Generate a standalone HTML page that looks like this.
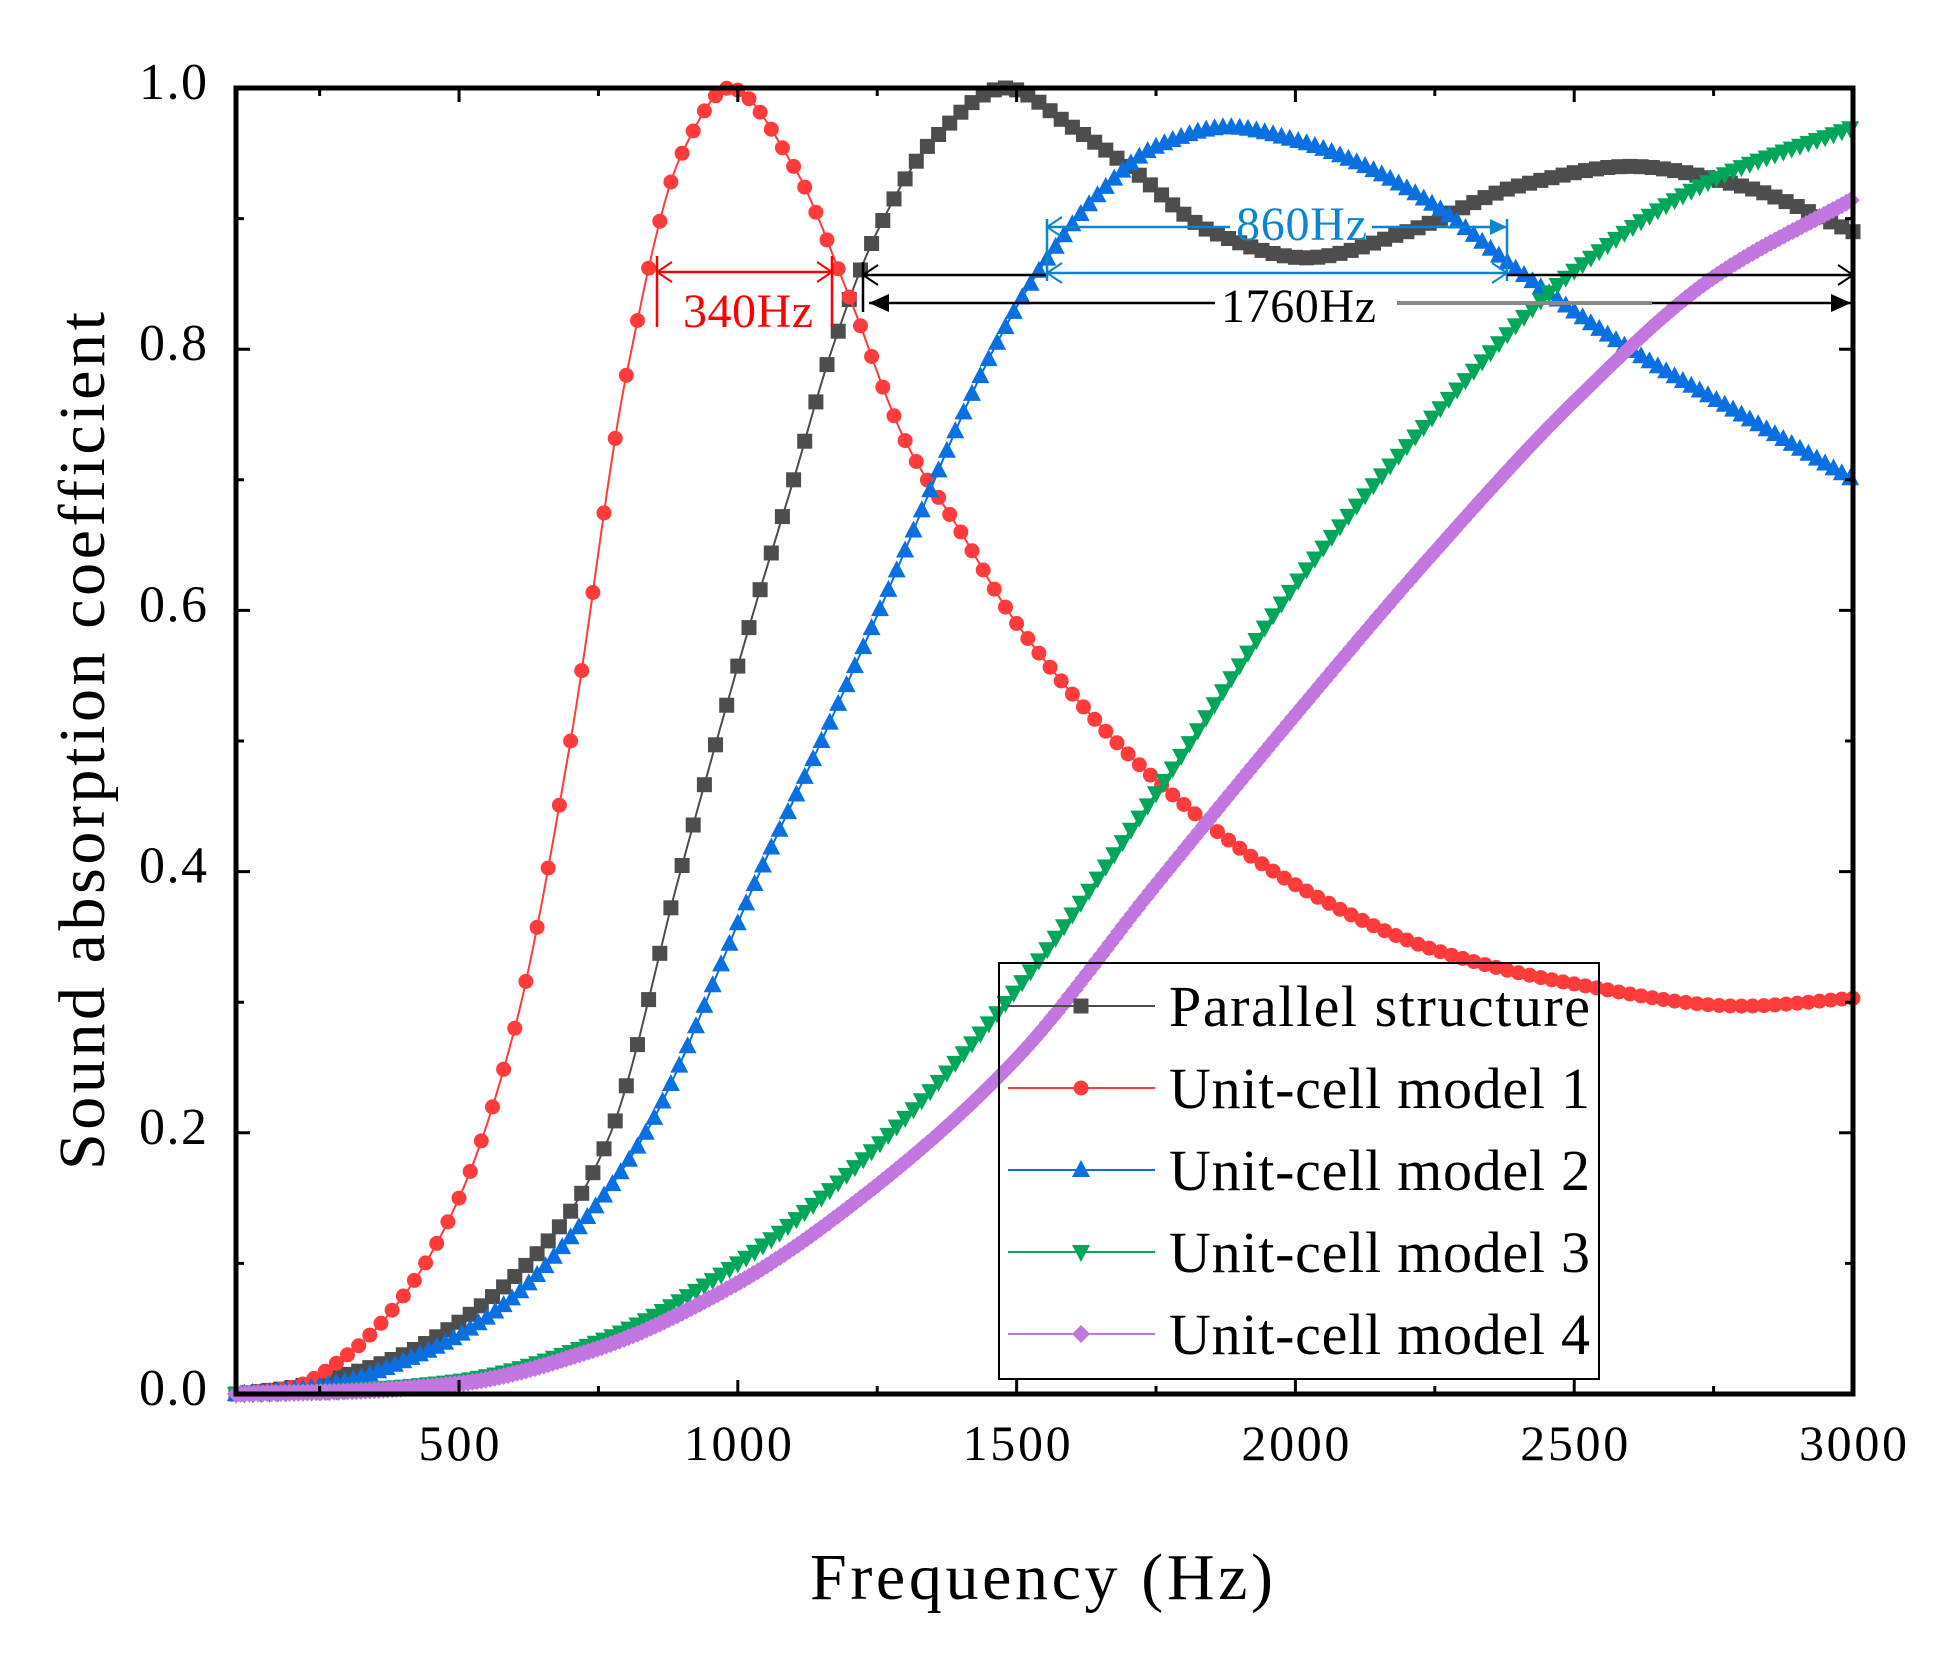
<!DOCTYPE html>
<html><head><meta charset="utf-8"><style>
html,body{margin:0;padding:0;background:#fff;}
svg{display:block;font-family:"Liberation Serif",serif;}
</style></head><body>
<svg id="s" width="1950" height="1655" xmlns="http://www.w3.org/2000/svg"></svg>
<script>
const S=document.getElementById('s');
const L0=236,R0=1853,T0=88,B0=1394;
const X=f=>L0+(f-100)*(R0-L0)/2900, Y=a=>B0-(B0-T0)*a;
function interp(pts){
 const n=pts.length,xs=pts.map(p=>p[0]),ys=pts.map(p=>p[1]);
 const d=[],m=[];
 for(let i=0;i<n-1;i++)d.push((ys[i+1]-ys[i])/(xs[i+1]-xs[i]));
 m[0]=d[0];m[n-1]=d[n-2];
 for(let i=1;i<n-1;i++){if(d[i-1]*d[i]<=0)m[i]=0;else{const w1=2*(xs[i+1]-xs[i])+(xs[i]-xs[i-1]),w2=(xs[i+1]-xs[i])+2*(xs[i]-xs[i-1]);m[i]=(w1+w2)/(w1/d[i-1]+w2/d[i]);}}
 return f=>{let i=0;while(i<n-2&&f>xs[i+1])i++;const h=xs[i+1]-xs[i],t=(f-xs[i])/h,t2=t*t,t3=t2*t;
  return (2*t3-3*t2+1)*ys[i]+(t3-2*t2+t)*h*m[i]+(-2*t3+3*t2)*ys[i+1]+(t3-t2)*h*m[i+1];};
}
const series=[
 {c:'#4d4d4d',m:'sq',st:20,p:[[100,0],[200,.005],[300,.015],[400,.03],[500,.055],[600,.09],[700,.14],[772,.2],[897,.4],[1029,.6],[1100,.7],[1169,.8],[1250,.89],[1350,.96],[1480,1],[1600,.97],[1700,.94],[1850,.89],[2020,.87],[2200,.89],[2400,.925],[2600,.94],[2800,.925],[3000,.89]]},
 {c:'#ff3b3b',m:'ci',st:20,p:[[100,0],[200,.005],[300,.03],[400,.075],[500,.15],[600,.28],[700,.5],[800,.78],[900,.95],[985,1],[1100,.94],[1200,.84],[1300,.73],[1400,.66],[1500,.59],[1750,.47],[2000,.39],[2250,.34],[2500,.314],[2800,.297],[3000,.303]]},
 {c:'#0a6fe0',m:'tu',st:15,p:[[100,0],[200,.003],[300,.01],[400,.025],[500,.045],[600,.075],[700,.12],[835,.2],[1040,.4],[1150,.5],[1254,.6],[1459,.8],[1540,.86],[1650,.92],[1750,.955],[1880,.97],[2000,.96],[2100,.945],[2250,.91],[2400,.86],[2600,.8],[2800,.75],[3000,.7]]},
 {c:'#00a65a',m:'td',st:15,p:[[100,0],[300,.003],[500,.01],[750,.04],[1000,.1],[1250,.19],[1500,.31],[1750,.46],[2000,.62],[2250,.75],[2500,.86],[2750,.93],[3000,.97]]},
 {c:'#c176e0',m:'di',st:8,p:[[100,0],[300,.002],[500,.008],[750,.035],[1000,.085],[1250,.16],[1500,.257],[1750,.39],[2000,.52],[2250,.645],[2500,.76],[2750,.855],[3000,.915]]}
];
function marker(t,x,y,c){
 if(t==='sq')return `<rect x="${x-7.5}" y="${y-7.5}" width="15" height="15" fill="${c}"/>`;
 if(t==='ci')return `<circle cx="${x}" cy="${y}" r="7.5" fill="${c}"/>`;
 if(t==='tu')return `<polygon points="${x},${y-10} ${x-9},${y+7} ${x+9},${y+7}" fill="${c}"/>`;
 if(t==='td')return `<polygon points="${x},${y+10} ${x-9},${y-7} ${x+9},${y-7}" fill="${c}"/>`;
 return `<polygon points="${x},${y-9} ${x+9},${y} ${x},${y+9} ${x-9},${y}" fill="${c}"/>`;
}
let h='';
let tk='';
for(let f=250;f<3000;f+=250){const x=X(f),L=(f%500===0)?14:8;tk+=`M${x},${B0}v${-L}M${x},${T0}v${L}`;}
for(let i=1;i<10;i++){const y=Y(i/10),L=(i%2===0)?14:8;tk+=`M${L0},${y}h${L}M${R0},${y}h${-L}`;}
series.forEach(s=>{const F=interp(s.p);let d='',mk='';
 for(let f=100;f<=3000;f+=5){d+=(f===100?'M':'L')+X(f).toFixed(1)+','+Y(F(f)).toFixed(1);}
 for(let f=100;f<=3000;f+=s.st){mk+=marker(s.m,+X(f).toFixed(1),+Y(F(f)).toFixed(1),s.c);}
 h+=`<path d="${d}" fill="none" stroke="${s.c}" stroke-width="2"/>`+mk;});
h+=`<g stroke-width="2.5" fill="none">
<path d="M657,256V327M832,256V327M657,272H832" stroke="#f00"/>
<path d="M672,262L657,272L672,282M817,262L832,272L817,282" stroke="#f00" stroke-width="2"/>
<path d="M863,262V312M863,275H1047" stroke="#000"/>
<path d="M878,265L863,275L878,285" stroke="#000" stroke-width="2"/>
<path d="M1047,219V281M1047,227H1230M1372,227H1507M1507,219V281M1047,273H1507" stroke="#0a86d0"/>
<path d="M1062,263L1047,273L1062,283M1492,263L1507,273L1492,283M1062,217L1047,227L1062,237" stroke="#0a86d0" stroke-width="2"/>
<path d="M1507,275H1853M869,303H1215M1652,303H1851" stroke="#000"/>
<path d="M1838,265L1853,275L1838,285" stroke="#000" stroke-width="2"/>
</g>
<path d="M1397,303H1652" stroke="#888" stroke-width="4"/>
<path d="M869,303L889,294V312Z" fill="#000"/><path d="M1851,303L1831,294V312Z" fill="#000"/>
<path d="M1507,227L1490,219V235Z" fill="#0a86d0"/>
<text x="683" y="327" font-size="48" fill="#f00" textLength="130">340Hz</text>
<text x="1236" y="240" font-size="48" fill="#0a86d0" textLength="131">860Hz</text>
<text x="1221" y="322" font-size="48" fill="#000" textLength="155">1760Hz</text>`;
h+=`<path d="${tk}" stroke="#000" stroke-width="3"/><rect x="${L0}" y="${T0}" width="${R0-L0}" height="${B0-T0}" fill="none" stroke="#000" stroke-width="5"/>`;
const names=['Parallel structure','Unit-cell model 1','Unit-cell model 2','Unit-cell model 3','Unit-cell model 4'];
h+=`<rect x="999" y="963" width="600" height="416" fill="none" stroke="#000" stroke-width="2"/>`;
series.forEach((s,i)=>{const y=1006+i*82;
 h+=`<path d="M1008,${y}H1155" stroke="${s.c}" stroke-width="2"/>`+marker(s.m,1081,y,s.c)+
 `<text x="1169" y="${y+20}" font-size="58" fill="#000" textLength="421">${names[i]}</text>`;});
['0.0','0.2','0.4','0.6','0.8','1.0'].forEach((t,i)=>{h+=`<text x="207" y="${Y(i*.2)+11}" font-size="52" text-anchor="end" textLength="68">${t}</text>`;});
[500,1000,1500,2000,2500,3000].forEach(f=>{const w=f<1000?81:108;h+=`<text x="${X(f)-w/2}" y="1460" font-size="50" textLength="${w}">${f}</text>`;});
h+=`<text x="810" y="1599" font-size="66" textLength="463">Frequency (Hz)</text>`;
h+=`<text transform="translate(104,1170) rotate(-90)" font-size="66" textLength="858">Sound absorption coefficient</text>`;
S.innerHTML=h;
</script>
</body></html>
